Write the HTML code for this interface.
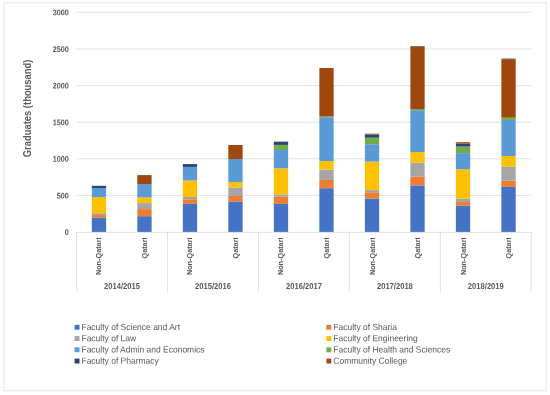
<!DOCTYPE html>
<html lang="en"><head><meta charset="utf-8"><title>Graduates by faculty</title>
<style>html,body{margin:0;padding:0;background:#fff}body{width:550px;height:395px;overflow:hidden}svg{display:block}text{font-family:"Liberation Sans",sans-serif;fill:#595959}.b{font-weight:bold}</style></head><body>
<svg width="550" height="395" viewBox="0 0 550 395">
<rect x="0" y="0" width="550" height="395" fill="#fff"/>
<rect x="3.9" y="2.8" width="542.3" height="387.95" fill="none" stroke="#E6E6E6" stroke-width="1"/>
<line x1="76.60" y1="195.43" x2="531.30" y2="195.43" stroke="#D9D9D9" stroke-width="0.8"/>
<line x1="76.60" y1="158.81" x2="531.30" y2="158.81" stroke="#D9D9D9" stroke-width="0.8"/>
<line x1="76.60" y1="122.19" x2="531.30" y2="122.19" stroke="#D9D9D9" stroke-width="0.8"/>
<line x1="76.60" y1="85.57" x2="531.30" y2="85.57" stroke="#D9D9D9" stroke-width="0.8"/>
<line x1="76.60" y1="48.95" x2="531.30" y2="48.95" stroke="#D9D9D9" stroke-width="0.8"/>
<line x1="76.60" y1="12.33" x2="531.30" y2="12.33" stroke="#D9D9D9" stroke-width="0.8"/>
<rect x="91.80" y="217.80" width="14.30" height="14.25" fill="#4472C4"/>
<rect x="91.80" y="214.90" width="14.30" height="2.90" fill="#ED7D31"/>
<rect x="91.80" y="213.10" width="14.30" height="1.80" fill="#A5A5A5"/>
<rect x="91.80" y="197.10" width="14.30" height="16.00" fill="#FFC000"/>
<rect x="91.80" y="188.05" width="14.30" height="9.05" fill="#5B9BD5"/>
<rect x="91.80" y="185.85" width="14.30" height="2.20" fill="#264478"/>
<rect x="137.31" y="216.20" width="14.30" height="15.85" fill="#4472C4"/>
<rect x="137.31" y="209.10" width="14.30" height="7.10" fill="#ED7D31"/>
<rect x="137.31" y="203.10" width="14.30" height="6.00" fill="#A5A5A5"/>
<rect x="137.31" y="197.40" width="14.30" height="5.70" fill="#FFC000"/>
<rect x="137.31" y="184.10" width="14.30" height="13.30" fill="#5B9BD5"/>
<rect x="137.31" y="175.10" width="14.30" height="9.00" fill="#9E480E"/>
<rect x="182.82" y="203.90" width="14.30" height="28.15" fill="#4472C4"/>
<rect x="182.82" y="199.30" width="14.30" height="4.60" fill="#ED7D31"/>
<rect x="182.82" y="197.00" width="14.30" height="2.30" fill="#A5A5A5"/>
<rect x="182.82" y="180.50" width="14.30" height="16.50" fill="#FFC000"/>
<rect x="182.82" y="166.90" width="14.30" height="13.60" fill="#5B9BD5"/>
<rect x="182.82" y="164.10" width="14.30" height="2.80" fill="#264478"/>
<rect x="228.33" y="201.50" width="14.30" height="30.55" fill="#4472C4"/>
<rect x="228.33" y="196.00" width="14.30" height="5.50" fill="#ED7D31"/>
<rect x="228.33" y="187.50" width="14.30" height="8.50" fill="#A5A5A5"/>
<rect x="228.33" y="182.20" width="14.30" height="5.30" fill="#FFC000"/>
<rect x="228.33" y="159.00" width="14.30" height="23.20" fill="#5B9BD5"/>
<rect x="228.33" y="145.00" width="14.30" height="14.00" fill="#9E480E"/>
<rect x="273.84" y="203.90" width="14.30" height="28.15" fill="#4472C4"/>
<rect x="273.84" y="196.60" width="14.30" height="7.30" fill="#ED7D31"/>
<rect x="273.84" y="194.50" width="14.30" height="2.10" fill="#A5A5A5"/>
<rect x="273.84" y="168.40" width="14.30" height="26.10" fill="#FFC000"/>
<rect x="273.84" y="150.00" width="14.30" height="18.40" fill="#5B9BD5"/>
<rect x="273.84" y="144.90" width="14.30" height="5.10" fill="#70AD47"/>
<rect x="273.84" y="141.80" width="14.30" height="3.10" fill="#264478"/>
<rect x="273.84" y="141.60" width="14.30" height="0.20" fill="#9E480E"/>
<rect x="319.35" y="188.20" width="14.30" height="43.85" fill="#4472C4"/>
<rect x="319.35" y="179.90" width="14.30" height="8.30" fill="#ED7D31"/>
<rect x="319.35" y="169.60" width="14.30" height="10.30" fill="#A5A5A5"/>
<rect x="319.35" y="161.05" width="14.30" height="8.55" fill="#FFC000"/>
<rect x="319.35" y="117.20" width="14.30" height="43.85" fill="#5B9BD5"/>
<rect x="319.35" y="116.50" width="14.30" height="0.70" fill="#70AD47"/>
<rect x="319.35" y="68.00" width="14.30" height="48.50" fill="#9E480E"/>
<rect x="364.86" y="198.60" width="14.30" height="33.45" fill="#4472C4"/>
<rect x="364.86" y="192.30" width="14.30" height="6.30" fill="#ED7D31"/>
<rect x="364.86" y="190.10" width="14.30" height="2.20" fill="#A5A5A5"/>
<rect x="364.86" y="161.60" width="14.30" height="28.50" fill="#FFC000"/>
<rect x="364.86" y="144.20" width="14.30" height="17.40" fill="#5B9BD5"/>
<rect x="364.86" y="137.70" width="14.30" height="6.50" fill="#70AD47"/>
<rect x="364.86" y="134.50" width="14.30" height="3.20" fill="#264478"/>
<rect x="364.86" y="133.70" width="14.30" height="0.80" fill="#9E480E"/>
<rect x="410.37" y="185.40" width="14.30" height="46.65" fill="#4472C4"/>
<rect x="410.37" y="176.40" width="14.30" height="9.00" fill="#ED7D31"/>
<rect x="410.37" y="162.70" width="14.30" height="13.70" fill="#A5A5A5"/>
<rect x="410.37" y="152.10" width="14.30" height="10.60" fill="#FFC000"/>
<rect x="410.37" y="110.10" width="14.30" height="42.00" fill="#5B9BD5"/>
<rect x="410.37" y="109.00" width="14.30" height="1.10" fill="#70AD47"/>
<rect x="410.37" y="46.50" width="14.30" height="62.50" fill="#9E480E"/>
<rect x="410.37" y="46.00" width="14.30" height="0.50" fill="#264478"/>
<rect x="455.88" y="205.70" width="14.30" height="26.35" fill="#4472C4"/>
<rect x="455.88" y="202.05" width="14.30" height="3.65" fill="#ED7D31"/>
<rect x="455.88" y="198.70" width="14.30" height="3.35" fill="#A5A5A5"/>
<rect x="455.88" y="169.30" width="14.30" height="29.40" fill="#FFC000"/>
<rect x="455.88" y="153.10" width="14.30" height="16.20" fill="#5B9BD5"/>
<rect x="455.88" y="146.50" width="14.30" height="6.60" fill="#70AD47"/>
<rect x="455.88" y="143.60" width="14.30" height="2.90" fill="#264478"/>
<rect x="455.88" y="142.20" width="14.30" height="1.40" fill="#9E480E"/>
<rect x="501.39" y="186.95" width="14.30" height="45.10" fill="#4472C4"/>
<rect x="501.39" y="180.70" width="14.30" height="6.25" fill="#ED7D31"/>
<rect x="501.39" y="166.45" width="14.30" height="14.25" fill="#A5A5A5"/>
<rect x="501.39" y="156.00" width="14.30" height="10.45" fill="#FFC000"/>
<rect x="501.39" y="119.90" width="14.30" height="36.10" fill="#5B9BD5"/>
<rect x="501.39" y="117.70" width="14.30" height="2.20" fill="#70AD47"/>
<rect x="501.39" y="59.20" width="14.30" height="58.50" fill="#9E480E"/>
<rect x="501.39" y="58.60" width="14.30" height="0.60" fill="#264478"/>
<line x1="76.60" y1="232.35" x2="531.30" y2="232.35" stroke="#D9D9D9" stroke-width="0.8"/>
<line x1="76.60" y1="232.05" x2="76.60" y2="291.60" stroke="#D9D9D9" stroke-width="0.8"/>
<line x1="167.54" y1="232.05" x2="167.54" y2="291.60" stroke="#D9D9D9" stroke-width="0.8"/>
<line x1="258.48" y1="232.05" x2="258.48" y2="291.60" stroke="#D9D9D9" stroke-width="0.8"/>
<line x1="349.42" y1="232.05" x2="349.42" y2="291.60" stroke="#D9D9D9" stroke-width="0.8"/>
<line x1="440.36" y1="232.05" x2="440.36" y2="291.60" stroke="#D9D9D9" stroke-width="0.8"/>
<line x1="531.30" y1="232.05" x2="531.30" y2="291.60" stroke="#D9D9D9" stroke-width="0.8"/>
<text class="b" transform="translate(68.8 235.05) rotate(0.03) scale(0.88 1)" font-size="8.2" text-anchor="end">0</text>
<text class="b" transform="translate(68.8 198.43) rotate(0.03) scale(0.88 1)" font-size="8.2" text-anchor="end">500</text>
<text class="b" transform="translate(68.8 161.81) rotate(0.03) scale(0.88 1)" font-size="8.2" text-anchor="end">1000</text>
<text class="b" transform="translate(68.8 125.19) rotate(0.03) scale(0.88 1)" font-size="8.2" text-anchor="end">1500</text>
<text class="b" transform="translate(68.8 88.57) rotate(0.03) scale(0.88 1)" font-size="8.2" text-anchor="end">2000</text>
<text class="b" transform="translate(68.8 51.95) rotate(0.03) scale(0.88 1)" font-size="8.2" text-anchor="end">2500</text>
<text class="b" transform="translate(68.8 15.33) rotate(0.03) scale(0.88 1)" font-size="8.2" text-anchor="end">3000</text>
<text class="b" transform="translate(30.6 108.4) rotate(-90) scale(0.9126 1)" font-size="10.3" text-anchor="middle">Graduates (thousand)</text>
<text class="b" transform="translate(101.23 237.5) rotate(-90) scale(0.9 1)" font-size="8.1" text-anchor="end">Non-Qatari</text>
<text class="b" transform="translate(146.78 237.5) rotate(-90) scale(0.9 1)" font-size="8.1" text-anchor="end">Qatari</text>
<text class="b" transform="translate(192.33 237.5) rotate(-90) scale(0.9 1)" font-size="8.1" text-anchor="end">Non-Qatari</text>
<text class="b" transform="translate(237.88 237.5) rotate(-90) scale(0.9 1)" font-size="8.1" text-anchor="end">Qatari</text>
<text class="b" transform="translate(283.44 237.5) rotate(-90) scale(0.9 1)" font-size="8.1" text-anchor="end">Non-Qatari</text>
<text class="b" transform="translate(328.99 237.5) rotate(-90) scale(0.9 1)" font-size="8.1" text-anchor="end">Qatari</text>
<text class="b" transform="translate(374.53 237.5) rotate(-90) scale(0.9 1)" font-size="8.1" text-anchor="end">Non-Qatari</text>
<text class="b" transform="translate(420.08 237.5) rotate(-90) scale(0.9 1)" font-size="8.1" text-anchor="end">Qatari</text>
<text class="b" transform="translate(465.63 237.5) rotate(-90) scale(0.9 1)" font-size="8.1" text-anchor="end">Non-Qatari</text>
<text class="b" transform="translate(511.19 237.5) rotate(-90) scale(0.9 1)" font-size="8.1" text-anchor="end">Qatari</text>
<text class="b" transform="translate(122.07 289.1) rotate(0.03) scale(0.885 1)" font-size="8.6" text-anchor="middle">2014/2015</text>
<text class="b" transform="translate(213.01 289.1) rotate(0.03) scale(0.885 1)" font-size="8.6" text-anchor="middle">2015/2016</text>
<text class="b" transform="translate(303.95 289.1) rotate(0.03) scale(0.885 1)" font-size="8.6" text-anchor="middle">2016/2017</text>
<text class="b" transform="translate(394.89 289.1) rotate(0.03) scale(0.885 1)" font-size="8.6" text-anchor="middle">2017/2018</text>
<text class="b" transform="translate(485.83 289.1) rotate(0.03) scale(0.885 1)" font-size="8.6" text-anchor="middle">2018/2019</text>
<rect x="74.60" y="324.80" width="4.9" height="4.9" fill="#4472C4"/>
<text transform="translate(81.45 329.90) rotate(0.03) scale(0.955 1)" font-size="8.9">Faculty of Science and Art</text>
<rect x="74.60" y="336.07" width="4.9" height="4.9" fill="#A5A5A5"/>
<text transform="translate(81.45 341.17) rotate(0.03) scale(0.955 1)" font-size="8.9">Faculty of Law</text>
<rect x="74.60" y="347.34" width="4.9" height="4.9" fill="#5B9BD5"/>
<text transform="translate(81.45 352.44) rotate(0.03) scale(0.955 1)" font-size="8.9">Faculty of Admin and Economics</text>
<rect x="74.60" y="358.61" width="4.9" height="4.9" fill="#264478"/>
<text transform="translate(81.45 363.71) rotate(0.03) scale(0.955 1)" font-size="8.9">Faculty of Pharmacy</text>
<rect x="326.40" y="324.80" width="4.9" height="4.9" fill="#ED7D31"/>
<text transform="translate(333.30 329.90) rotate(0.03) scale(0.955 1)" font-size="8.9">Faculty of Sharia</text>
<rect x="326.40" y="336.07" width="4.9" height="4.9" fill="#FFC000"/>
<text transform="translate(333.30 341.17) rotate(0.03) scale(0.955 1)" font-size="8.9">Faculty of Engineering</text>
<rect x="326.40" y="347.34" width="4.9" height="4.9" fill="#70AD47"/>
<text transform="translate(333.30 352.44) rotate(0.03) scale(0.955 1)" font-size="8.9">Faculty of Health and Sciences</text>
<rect x="326.40" y="358.61" width="4.9" height="4.9" fill="#9E480E"/>
<text transform="translate(333.30 363.71) rotate(0.03) scale(0.955 1)" font-size="8.9">Community College</text>
</svg></body></html>
